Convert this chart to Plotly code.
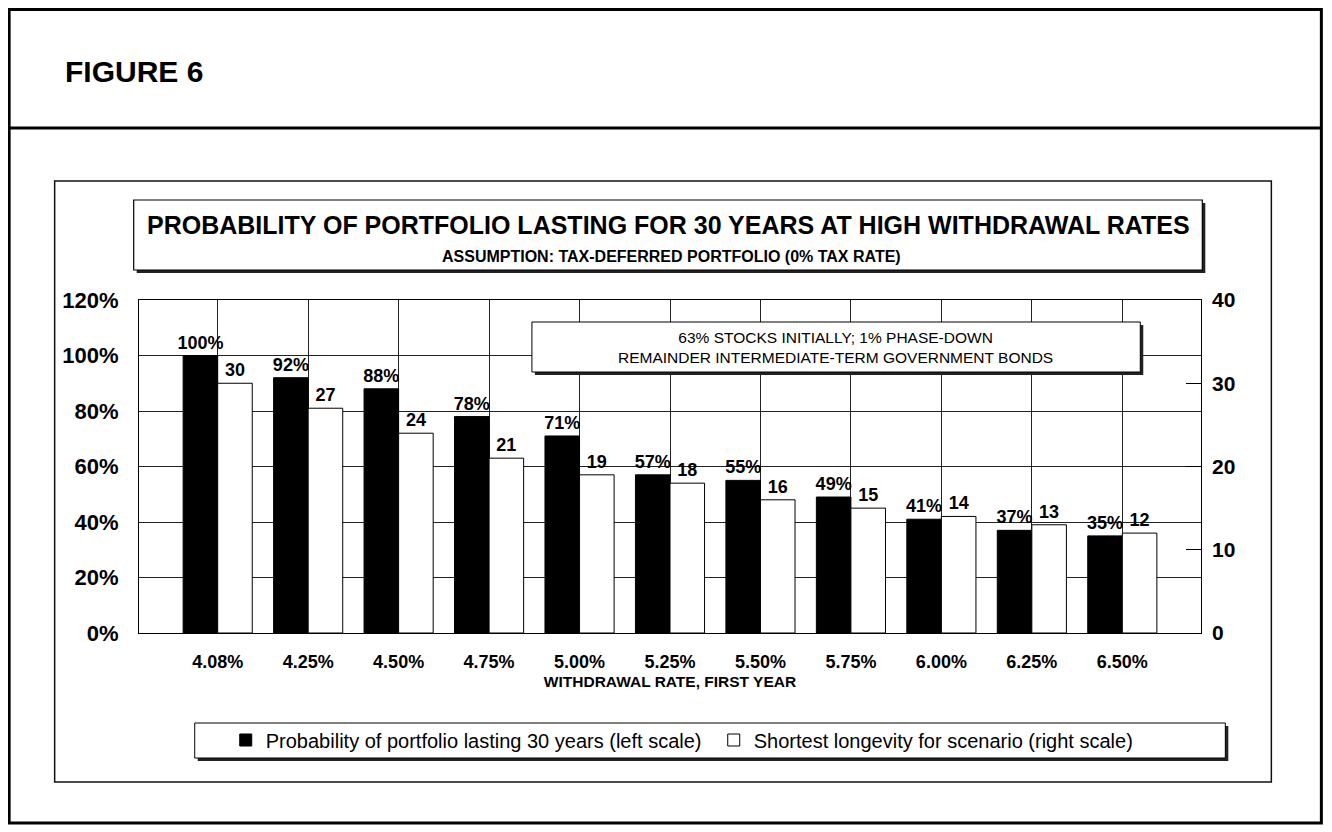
import plotly.graph_objects as go

# data
rates = ['4.08%', '4.25%', '4.50%', '4.75%', '5.00%', '5.25%',
         '5.50%', '5.75%', '6.00%', '6.25%', '6.50%']
prob_pct = [100, 92, 88, 78, 71, 57, 55, 49, 41, 37, 35]
longevity = [30, 27, 24, 21, 19, 18, 16, 15, 14, 13, 12]
left_ticks = [0, 20, 40, 60, 80, 100, 120]
right_ticks = [0, 10, 20, 30, 40]

FONT = 'Liberation Sans, Arial, sans-serif'

# page has an 8px body margin, so the figure is a bit smaller than the window
OFF = 8
W, H = 1332 - OFF, 832 - OFF
L, R, T, B = 139.3, 1200.7, 300, 633   # plot area in window pixels


def px(x):
    return (x - L) / (R - L)


def py(y):
    return (B - y) / (B - T)


label_font = dict(family=FONT, size=18, color='black', weight='bold')

fig = go.Figure()
fig.add_trace(go.Bar(
    x=rates, y=prob_pct, yaxis='y', offsetgroup='prob',
    name='Probability of portfolio lasting 30 years (left scale)',
    marker=dict(color='black', line=dict(color='black', width=1)),
    text=[f'{v}%' for v in prob_pct], textposition='outside',
    cliponaxis=False, constraintext='none', textfont=label_font,
))
fig.add_trace(go.Bar(
    x=rates, y=longevity, yaxis='y2', offsetgroup='long',
    name='Shortest longevity for scenario (right scale)',
    marker=dict(color='white', line=dict(color='black', width=1)),
    text=[str(v) for v in longevity], textposition='outside',
    cliponaxis=False, constraintext='none', textfont=label_font,
))


def boxed(x0, y0, x1, y1, lw=1):
    # white box with a dark drop shadow
    return [
        dict(type='rect', xref='paper', yref='paper', layer='above',
             x0=px(x0 + 3), x1=px(x1 + 3), y0=py(y0 + 3), y1=py(y1 + 3),
             fillcolor='#222', line=dict(width=0)),
        dict(type='rect', xref='paper', yref='paper', layer='above',
             x0=px(x0), x1=px(x1), y0=py(y0), y1=py(y1),
             fillcolor='white', line=dict(color='black', width=lw)),
    ]


shapes = [
    # outer frame and header rule
    dict(type='rect', xref='paper', yref='paper', layer='below',
         x0=px(OFF + 1.5), x1=px(1321), y0=py(OFF + 1.5), y1=py(823),
         line=dict(color='black', width=3)),
    dict(type='line', xref='paper', yref='paper', layer='below',
         x0=px(OFF), x1=px(1321), y0=py(128), y1=py(128),
         line=dict(color='black', width=3)),
    # chart frame
    dict(type='rect', xref='paper', yref='paper', layer='below',
         x0=px(55), x1=px(1271), y0=py(181), y1=py(782),
         line=dict(color='#111', width=1.5)),
]
shapes += boxed(134, 200, 1202, 270, 1.2)
shapes += boxed(532, 322, 1140, 372, 1)
shapes += boxed(195, 723, 1225, 758, 1)

annotations = [
    dict(text='<b>FIGURE 6</b>', x=px(63), y=py(71), xref='paper', yref='paper',
         xanchor='left', yanchor='middle', showarrow=False,
         font=dict(family=FONT, size=30, color='black')),
    dict(text='<b>PROBABILITY OF PORTFOLIO LASTING FOR 30 YEARS AT HIGH WITHDRAWAL RATES</b>',
         x=px(669), y=py(225), xref='paper', yref='paper',
         xanchor='center', yanchor='middle', showarrow=False,
         font=dict(family=FONT, size=25, color='black')),
    dict(text='<b>ASSUMPTION: TAX-DEFERRED PORTFOLIO (0% TAX RATE)</b>',
         x=px(671), y=py(256), xref='paper', yref='paper',
         xanchor='center', yanchor='middle', showarrow=False,
         font=dict(family=FONT, size=16, color='black')),
    dict(text='63% STOCKS INITIALLY; 1% PHASE-DOWN<br>REMAINDER INTERMEDIATE-TERM GOVERNMENT BONDS',
         x=px(835), y=py(347), xref='paper', yref='paper',
         xanchor='center', yanchor='middle', showarrow=False,
         font=dict(family=FONT, size=15.5, color='black')),
]

fig.update_layout(
    width=W, height=H,
    margin=dict(l=L - OFF, r=W - (R - OFF), t=T - OFF, b=H - (B - OFF), pad=0),
    paper_bgcolor='white', plot_bgcolor='white',
    barmode='group', bargap=0.236, bargroupgap=0,
    showlegend=True,
    legend=dict(orientation='h', x=px(226), xanchor='left', y=py(740), yanchor='middle',
                bgcolor='rgba(0,0,0,0)', borderwidth=0, entrywidth=443,
                font=dict(family=FONT, size=20, color='black')),
    xaxis=dict(type='category', range=[-0.87, 10.87], showgrid=True, gridcolor='#222',
               gridwidth=1, showline=True, linecolor='black', linewidth=1.2, mirror=True,
               ticks='', ticklabelstandoff=12,
               tickfont=dict(family=FONT, size=18, color='black', weight='bold'),
               title=dict(text='WITHDRAWAL RATE, FIRST YEAR', standoff=5,
                          font=dict(family=FONT, size=15.5, color='black', weight='bold'))),
    yaxis=dict(range=[0, 120], tickvals=left_ticks, ticktext=[f'{v}%' for v in left_ticks],
               showgrid=True, gridcolor='#222', gridwidth=1, zeroline=False,
               showline=True, linecolor='black', linewidth=1.2, mirror=True,
               ticks='', ticklabelstandoff=15,
               tickfont=dict(family=FONT, size=22, color='black', weight='bold')),
    yaxis2=dict(overlaying='y', side='right', range=[0, 40], tickvals=right_ticks,
                showgrid=False, zeroline=False, showline=False,
                ticks='inside', ticklen=15, tickcolor='black', tickwidth=1.2,
                ticklabelstandoff=10,
                tickfont=dict(family=FONT, size=21, color='black', weight='bold')),
    shapes=shapes,
    annotations=annotations,
)

fig.write_html('out.html')
